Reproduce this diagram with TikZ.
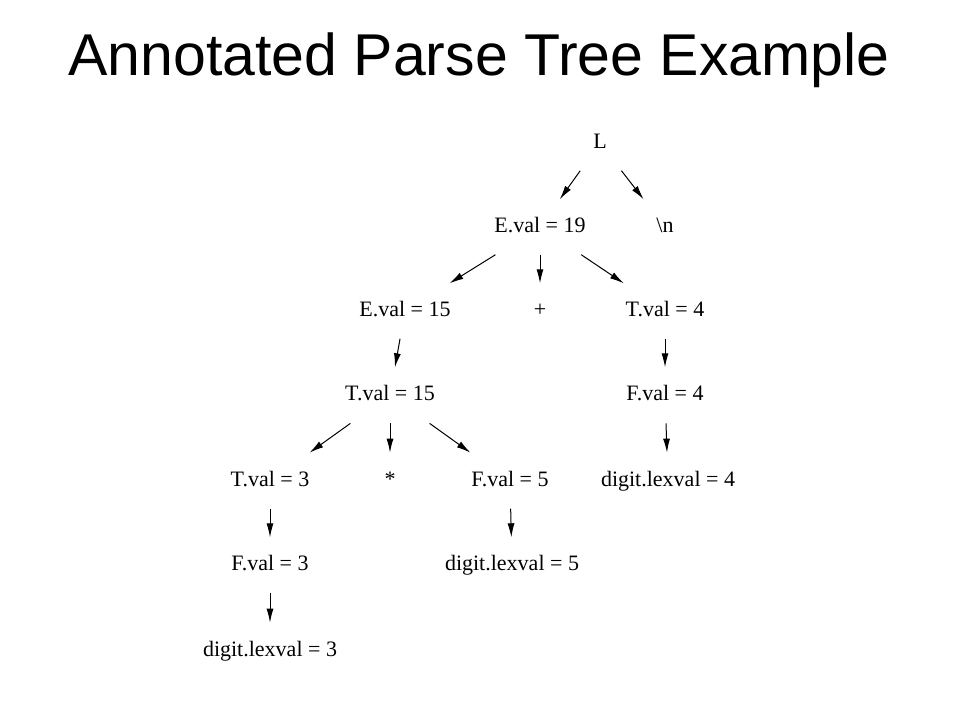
\documentclass[tikz,border=0pt]{standalone}
\usepackage{fontspec}
\setmainfont{Liberation Serif}
\newfontfamily\titlefont{Liberation Sans}
\usetikzlibrary{calc,arrows.meta}
\begin{document}
\begin{tikzpicture}[x=1pt,y=-1pt,
  lab/.style={font=\fontsize{22}{24}\selectfont, inner sep=0pt, text height=15pt, text depth=5pt},
  arr/.style={line width=1pt,-{Latex[length=14pt,width=7pt]}}]
\useasboundingbox (0,0) rectangle (960,720);
\node[font=\titlefont\fontsize{59}{62}\selectfont] (title) at (479,60) {Annotated Parse Tree Example};
\node[lab] (L) at (600,143) {L};
\node[lab] (E19) at (540,227) {E.val = 19};
\node[lab] (nl) at (665,227) {\textbackslash n};
\node[lab] (E15) at (405,311) {E.val = 15};
\node[lab] (plus) at (540,311) {+};
\node[lab] (T4) at (665,311) {T.val = 4};
\node[lab] (T15) at (390,395) {T.val = 15};
\node[lab] (F4) at (665,395) {F.val = 4};
\node[lab] (T3) at (270,481) {T.val = 3};
\node[lab] (star) at (390,481) {*};
\node[lab] (F5) at (510,481) {F.val = 5};
\node[lab] (d4) at (668,481) {digit.lexval = 4};
\node[lab] (F3) at (270,565) {F.val = 3};
\node[lab] (d5) at (512,565) {digit.lexval = 5};
\node[lab] (d3) at (270,651) {digit.lexval = 3};
\foreach \a/\b in {L/E19,L/nl,E19/E15,E19/plus,E19/T4,E15/T15,T4/F4,T15/T3,T15/star,T15/F5,F4/d4,T3/F3,F5/d5,F3/d3}
  \draw[arr] ($(\a)!0.33!(\b)$) -- ($(\a)!0.67!(\b)$);
\end{tikzpicture}
\end{document}
